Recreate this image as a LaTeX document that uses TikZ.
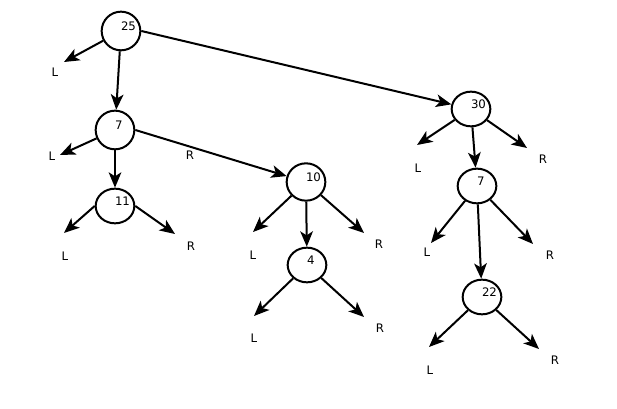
\documentclass[tikz,border=0pt]{standalone}
\usepackage{fontspec}
\setmainfont{DejaVu Sans}
\usetikzlibrary{shapes,arrows.meta,positioning}
\newcommand{\keytxt}[1]{\smash{\rlap{#1}}}

\begin{document}
\begin{tikzpicture}[
    x=0.75pt, y=-0.75pt,
    font=\fontsize{8.8}{10}\selectfont,
    key/.style={ellipse, draw, line width=1.5pt, minimum width=29pt, minimum height=26pt, inner sep=0pt},
    side/.style={inner sep=0pt},
    arrow/.style={-{Stealth[length=11.5pt,width=9.5pt,inset=3pt]}, line width=1.5pt}
]
\useasboundingbox (0,0) rectangle (617,409);

% Keys
\node[key, minimum height=29pt] (n25) at (121,31) {\keytxt{25}};
\node[key, minimum height=29pt] (n7) at (115,130) {\keytxt{7}};
\node[key] (n11) at (115,206) {\keytxt{11}};
\node[key, minimum height=28pt] (n10) at (306,182) {\keytxt{10}};
\node[key] (n4) at (307,265) {\keytxt{4}};
\node[key] (n30) at (471,109) {\keytxt{30}};
\node[key] (n7r) at (477,186) {\keytxt{7}};
\node[key] (n22) at (482,297) {\keytxt{22}};

% Free ends
\coordinate (t25l) at (64,62);
\coordinate (t7l) at (60,155);
\coordinate (t11l) at (64,233);
\coordinate (t11r) at (175,234);
\coordinate (t10l) at (253,232);
\coordinate (t10r) at (364,233);
\coordinate (t4l) at (254,316);
\coordinate (t4r) at (364,317);
\coordinate (t30l) at (417,145);
\coordinate (t30r) at (527,148);
\coordinate (t7rl) at (431,243);
\coordinate (t7rr) at (533,244);
\coordinate (t22l) at (429,347);
\coordinate (t22r) at (539,349);

% Side labels
\node[side] (l25) at (55,72) {L};
\node[side] (l7) at (52,156) {L};
\node[side] (r7) at (190,155) {R};
\node[side] (l11) at (65,256) {L};
\node[side] (r11) at (191,246) {R};
\node[side] (l10) at (253,255) {L};
\node[side] (r10) at (379,244) {R};
\node[side] (l4) at (254,338) {L};
\node[side] (r4) at (380,328) {R};
\node[side] (l30) at (418,168) {L};
\node[side] (r30) at (543,159) {R};
\node[side] (l7r) at (427,252) {L};
\node[side] (r7r) at (550,255) {R};
\node[side] (l22) at (430,370) {L};
\node[side] (r22) at (555,360) {R};

% Arrows
\draw[arrow] (n25) -- (t25l);
\draw[arrow] (n25) -- (n7);
\draw[arrow] (n25.east) -- (n30);
\draw[arrow] (n7) -- (t7l);
\draw[arrow] (n7) -- (n11);
\draw[arrow] (n7.east) -- (n10);
\draw[arrow] (n11.west) -- (t11l);
\draw[arrow] (n11.east) -- (t11r);
\draw[arrow] (n10) -- (t10l);
\draw[arrow] (n10) -- (n4);
\draw[arrow] (n10) -- (t10r);
\draw[arrow] (n4) -- (t4l);
\draw[arrow] (n4) -- (t4r);
\draw[arrow] (n30) -- (t30l);
\draw[arrow] (n30) -- (n7r);
\draw[arrow] (n30) -- (t30r);
\draw[arrow] (n7r) -- (t7rl);
\draw[arrow] (n7r) -- (n22);
\draw[arrow] (n7r) -- (t7rr);
\draw[arrow] (n22) -- (t22l);
\draw[arrow] (n22) -- (t22r);

\end{tikzpicture}
\end{document}
